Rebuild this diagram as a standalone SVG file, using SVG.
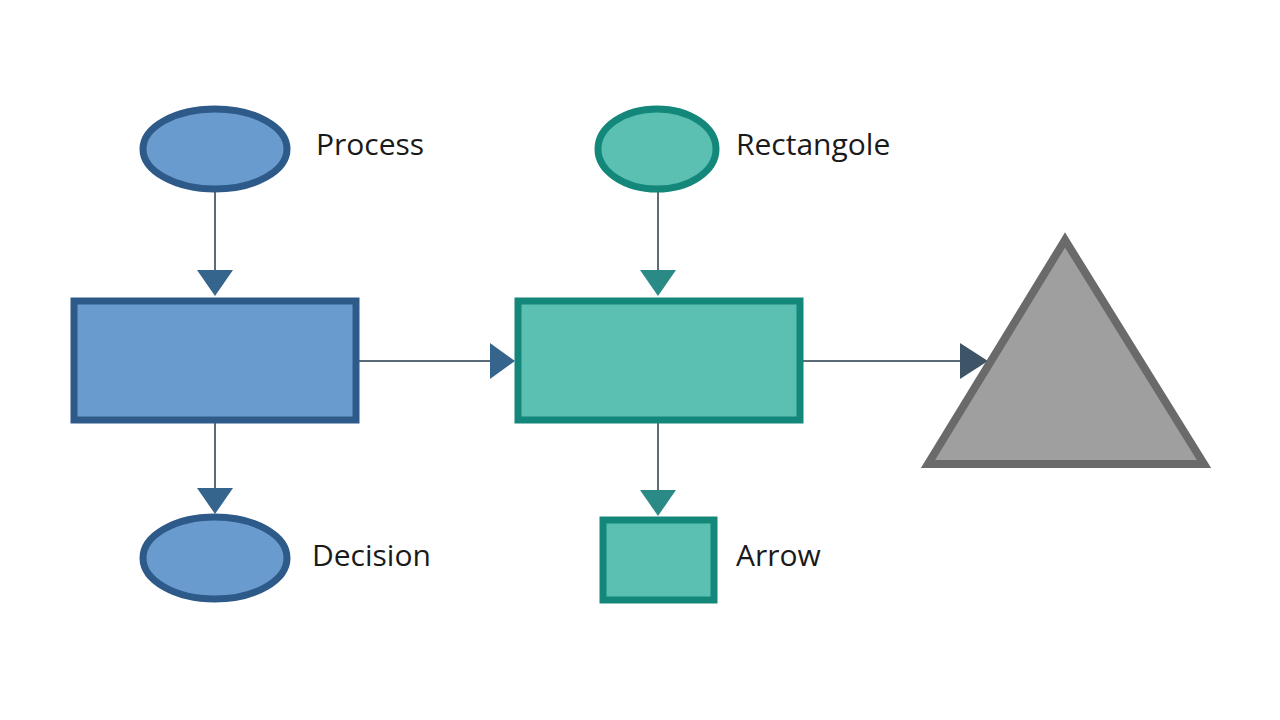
<svg xmlns="http://www.w3.org/2000/svg" width="1280" height="720" viewBox="0 0 1280 720">
<style>
.blue{fill:#6a9bcf;stroke:#2e5a89;stroke-width:7}
.teal{fill:#5bc0b1;stroke:#14877b;stroke-width:7}
.gray{fill:#9f9f9f;stroke:#6a6a6a;stroke-width:8;stroke-linejoin:miter}
.ln{stroke:#5b6b78;stroke-width:2;fill:none}
.hb{fill:#35658c}.ht{fill:#2a8b86}.hg{fill:#3e5568}
text{font-family:"Open Sans","Noto Sans",sans-serif;font-size:30px;fill:#1a1a1a}
</style>
<rect width="1280" height="720" fill="#fff"/>
<g id="connectors">
<line class="ln" x1="215" y1="190" x2="215" y2="272"/><polygon class="hb" points="197,270 233,270 215,296"/>
<line class="ln" x1="357" y1="361" x2="492" y2="361"/><polygon class="hb" points="490,343 490,379 515,361"/>
<line class="ln" x1="658" y1="190" x2="658" y2="272"/><polygon class="ht" points="640,270 676,270 658,296"/>
<line class="ln" x1="801" y1="361" x2="962" y2="361"/><polygon class="hg" points="960,343 960,379 988,361"/>
<line class="ln" x1="215" y1="421" x2="215" y2="490"/><polygon class="hb" points="197,488 233,488 215,514"/>
<line class="ln" x1="658" y1="421" x2="658" y2="492"/><polygon class="ht" points="640,490 676,490 658,516"/>
</g>
<g id="process"><ellipse class="blue" cx="215" cy="149" rx="72" ry="40"/><text x="316" y="155">Process</text></g>
<g id="rectangole"><ellipse class="teal" cx="657" cy="149" rx="59" ry="40"/><text x="736" y="155">Rectangole</text></g>
<g id="rect-left"><rect class="blue" x="74" y="301" width="282" height="119"/></g>
<g id="rect-mid"><rect class="teal" x="518" y="301" width="282" height="119"/></g>
<g id="triangle"><polygon class="gray" points="1065,240 928,464 1204,464"/></g>
<g id="decision"><ellipse class="blue" cx="215" cy="558" rx="72" ry="41"/><text x="312" y="566">Decision</text></g>
<g id="arrow"><rect class="teal" x="603" y="520" width="111" height="80"/><text x="736" y="566">Arrow</text></g>
</svg>
